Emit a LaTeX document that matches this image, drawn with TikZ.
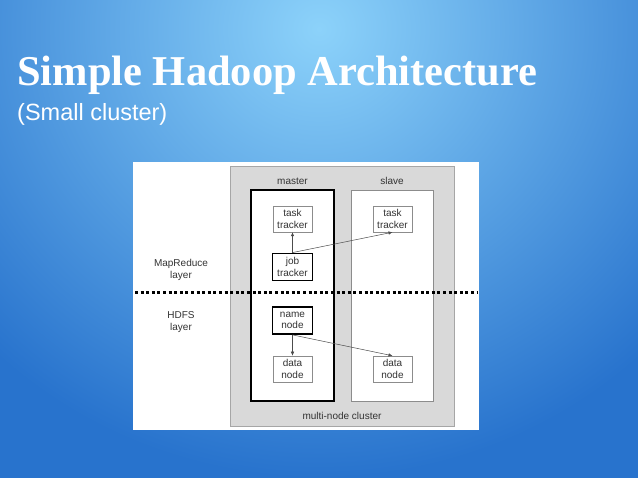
\documentclass[tikz,border=0pt]{standalone}
\usepackage{fontspec}
\setmainfont{Liberation Serif}
\setsansfont{Liberation Sans}
\usetikzlibrary{arrows.meta}
\begin{document}
\begin{tikzpicture}[x=1pt,y=-1pt,
  lbl/.style={font=\sffamily\fontsize{10}{11.5}\selectfont,text=black!80,align=center,inner sep=0},
  box/.style={draw=black!45,fill=white,line width=0.5pt},
  tbox/.style={draw=black,fill=white,line width=1.8pt},
  conn/.style={draw=black!70,line width=0.5pt,-{Latex[length=4pt,width=3.5pt]}}]
\useasboundingbox (0,0) rectangle (638,478);
\shade[inner color={rgb,255:red,140;green,210;blue,250},outer color={rgb,255:red,40;green,115;blue,205}] (-150,-420) rectangle (788,478);
\node[anchor=base west,text=white,font=\bfseries\fontsize{42.5}{48}\selectfont,inner sep=0] (title) at (17,86) {Simple Hadoop Architecture};
\node[anchor=base west,text=white,font=\sffamily\fontsize{23.5}{26}\selectfont,inner sep=0] (sub) at (17,121) {(Small cluster)};
\fill[white] (133,162) rectangle (479,430);
\filldraw[fill=black!15,draw=black!35] (230,166) rectangle (454,426);
\draw[tbox] (251,190) rectangle (334,401);
\draw[box] (351,190) rectangle (433,401);
\node[lbl] (mlab) at (292.5,181) {master};
\node[lbl] (slab) at (392,181) {slave};
\node[lbl] (clab) at (342,416) {multi-node cluster};
\node[lbl] (mr) at (181,270) {MapReduce\\layer};
\node[lbl] (hd) at (181,322) {HDFS\\layer};
\node[box,minimum width=39,minimum height=26,lbl,draw=black!45,fill=white] (tt1) at (292.5,219) {task\\tracker};
\node[box,minimum width=39,minimum height=26,lbl,draw=black!45,fill=white] (tt2) at (392.5,219) {task\\tracker};
\node[tbox,minimum width=40,minimum height=27,lbl,draw=black,fill=white] (jt) at (292.5,267) {job\\tracker};
\node[tbox,minimum width=40,minimum height=27,lbl,draw=black,fill=white] (nn) at (292.5,320.5) {name\\node};
\node[box,minimum width=39,minimum height=26,lbl,draw=black!45,fill=white] (dn1) at (292.5,369) {data\\node};
\node[box,minimum width=39,minimum height=26,lbl,draw=black!45,fill=white] (dn2) at (392.5,369) {data\\node};
\draw[line width=3pt,dash pattern=on 3pt off 2.6pt] (135,293) -- (477,293);
\draw[conn] (jt.north) -- (tt1.south);
\draw[conn] (jt.north) -- (tt2.south);
\draw[conn] (nn.south) -- (dn1.north);
\draw[conn] (nn.south) -- (dn2.north);
\end{tikzpicture}
\end{document}
